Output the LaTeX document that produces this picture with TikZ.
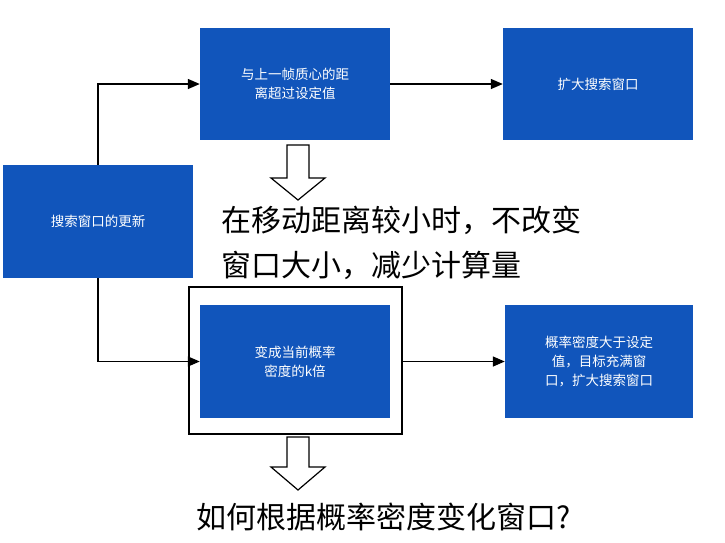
\documentclass[tikz,border=0pt]{standalone}
\usepackage{fontspec}
\newfontfamily\cjk{Noto Sans CJK SC}
\usetikzlibrary{arrows.meta}
\definecolor{boxblue}{HTML}{1155BB}
\tikzset{
  bbox/.style={fill=boxblue,draw=none,text=white,align=center,font=\cjk\fontsize{13.5}{19}\selectfont},
  conn/.style={-{Triangle[length=12pt,width=10pt]},line width=1.4pt},
  big/.style={font=\cjk\fontsize{30}{36}\selectfont,anchor=west,inner sep=0pt},
  hollow/.style={draw=black,line width=1.2pt,fill=white}
}
\begin{document}
\begin{tikzpicture}[x=1pt,y=-1pt]
\useasboundingbox (0,0) rectangle (725,542);
\node[bbox,minimum width=190pt,minimum height=113pt] (L) at (98,221.5) {搜索窗口的更新};
\node[bbox,minimum width=190pt,minimum height=112pt] (T) at (295,84) {与上一帧质心的距\\离超过设定值};
\node[bbox,minimum width=190pt,minimum height=112pt] (TR) at (598,84) {扩大搜索窗口};
\node[bbox,minimum width=190pt,minimum height=113pt] (M) at (295,361.5) {变成当前概率\\密度的k倍};
\node[draw=black,line width=1.2pt,minimum width=213pt,minimum height=147pt] (F) at (295.5,360.5) {};
\node[bbox,minimum width=188pt,minimum height=113pt] (R) at (599,361.5) {概率密度大于设定\\值，目标充满窗\\口，扩大搜索窗口};
\draw[conn] (L.north) |- (T.west);
\draw[conn] (L.south) |- (M.west);
\draw[conn] (T.east) -- (TR.west);
\draw[conn] (F.east |- R.west) -- (R.west);
\draw[hollow] (287,145) -- (309,145) -- (309,178) -- (325,178) -- (298,200) -- (271,178) -- (287,178) -- cycle;
\draw[hollow] (287,437) -- (309,437) -- (309,467) -- (325,467) -- (298,490) -- (271,467) -- (287,467) -- cycle;
\node[big] (t1) at (221,220) {在移动距离较小时，不改变};
\node[big] (t2) at (221,265) {窗口大小，减少计算量};
\node[big] (t3) at (196,517) {如何根据概率密度变化窗口?};
\end{tikzpicture}
\end{document}
